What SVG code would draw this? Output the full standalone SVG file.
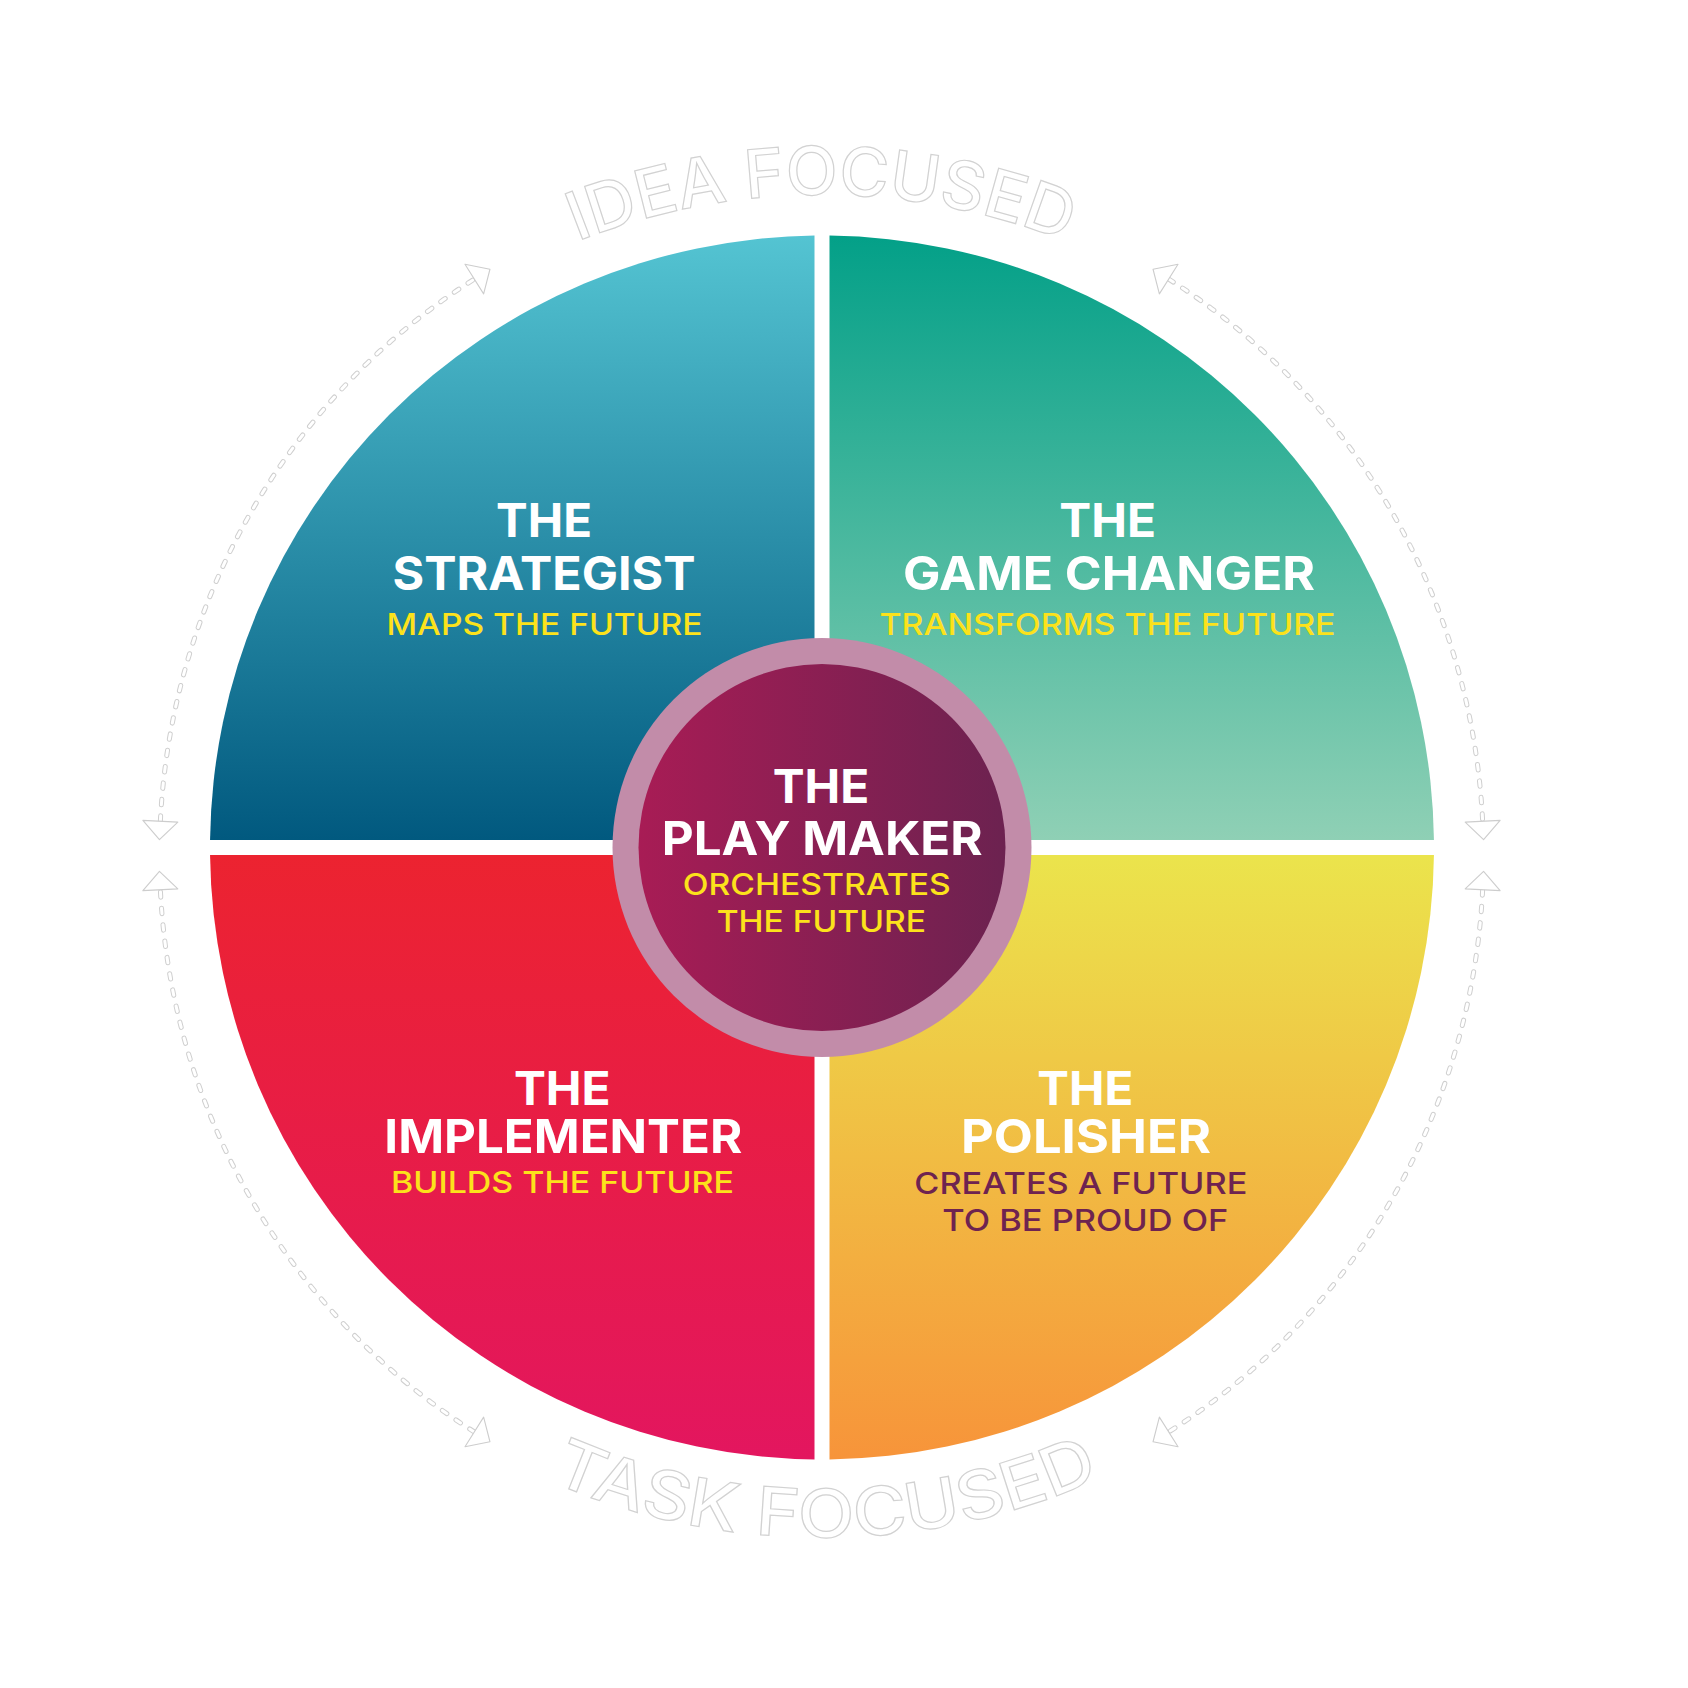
<svg xmlns="http://www.w3.org/2000/svg" width="1688" height="1688" viewBox="0 0 1688 1688">
<defs>
<linearGradient id="gTL" x1="0" y1="0" x2="0" y2="1"><stop offset="0" stop-color="#54C4D2"/><stop offset="1" stop-color="#01597F"/></linearGradient>
<linearGradient id="gTR" x1="0" y1="0" x2="0" y2="1"><stop offset="0" stop-color="#03A088"/><stop offset="1" stop-color="#8FD0B5"/></linearGradient>
<linearGradient id="gBL" x1="0" y1="0" x2="0" y2="1"><stop offset="0" stop-color="#EC2330"/><stop offset="1" stop-color="#E3165F"/></linearGradient>
<linearGradient id="gBR" x1="0" y1="0" x2="0" y2="1"><stop offset="0" stop-color="#EBE44C"/><stop offset="1" stop-color="#F7943A"/></linearGradient>
<linearGradient id="gC" x1="0" y1="0" x2="1" y2="0"><stop offset="0" stop-color="#A81C55"/><stop offset="1" stop-color="#6C2250"/></linearGradient>
<marker id="ah" markerUnits="userSpaceOnUse" viewBox="-3 -20 25 40" refX="0" refY="0" markerWidth="25" markerHeight="40" orient="auto-start-reverse" overflow="visible">
<path d="M0,-17.5 L18.5,0 L0,17.5 Z" fill="#fff" stroke="#cdcdcd" stroke-width="1.1" stroke-linejoin="round"/>
</marker>
<path id="arcTop" d="M160.5,855.5 A661,661 0 0 1 1482.5,855.5"/>
<path id="arcBot" d="M139.5,855.5 A682,682 0 0 0 1503.5,855.5"/>
</defs>
<style>
.t{font-family:Inter,"Liberation Sans",sans-serif;font-weight:700;font-size:47px;fill:#fff;text-anchor:middle}
.s{font-family:Inter,"Liberation Sans",sans-serif;font-weight:500;font-size:30px;fill:#FCE21B;text-anchor:middle}
.p{fill:#6E2350}
.o{font-family:Inter,"Liberation Sans",sans-serif;font-weight:500;font-size:67px;fill:#fff;stroke:#d2d2d2;stroke-width:1.2;text-anchor:middle}
.dg{fill:none;stroke:#cfcfcf;stroke-width:5;stroke-linecap:round;stroke-dasharray:5.5 11}
.dw{fill:none;stroke:#fff;stroke-width:3;stroke-linecap:round;stroke-dasharray:5.5 11;marker-start:url(#ah);marker-end:url(#ah)}
</style>
<rect width="1688" height="1688" fill="#fff"/>

<g id="connectors">
<path class="dg" d="M160.35,821.25 A662,677 0 0 1 474.3,279.1"/>
<path class="dw" d="M160.35,821.25 A662,677 0 0 1 474.3,279.1"/>
<path class="dg" d="M1168.7,279.1 A662,677 0 0 1 1482.65,821.25"/>
<path class="dw" d="M1168.7,279.1 A662,677 0 0 1 1482.65,821.25"/>
<path class="dg" d="M474.3,1431.9 A662,677 0 0 1 160.35,889.75"/>
<path class="dw" d="M474.3,1431.9 A662,677 0 0 1 160.35,889.75"/>
<path class="dg" d="M1482.65,889.75 A662,677 0 0 1 1168.7,1431.9"/>
<path class="dw" d="M1482.65,889.75 A662,677 0 0 1 1168.7,1431.9"/>
</g>

<g id="idea-focused">
<text class="o"><textPath href="#arcTop" startOffset="50%" textLength="500" lengthAdjust="spacingAndGlyphs">IDEA FOCUSED</textPath></text>
</g>
<g id="task-focused">
<text class="o"><textPath href="#arcBot" startOffset="50.2%" textLength="566" lengthAdjust="spacingAndGlyphs">TASK FOCUSED</textPath></text>
</g>

<g id="strategist">
<path d="M814.5,840 L210.05,840 A612,612 0 0 1 814.5,235.55 Z" fill="url(#gTL)"/>
<text class="t" x="544" y="537.3" textLength="96" lengthAdjust="spacingAndGlyphs">THE</text>
<text class="t" x="544" y="590" textLength="303" lengthAdjust="spacingAndGlyphs">STRATEGIST</text>
<text class="s" x="544.5" y="635" textLength="316" lengthAdjust="spacingAndGlyphs">MAPS THE FUTURE</text>
</g>

<g id="game-changer">
<path d="M829.5,840 L829.5,235.55 A612,612 0 0 1 1433.95,840 Z" fill="url(#gTR)"/>
<text class="t" x="1107.7" y="537.3" textLength="96.7" lengthAdjust="spacingAndGlyphs">THE</text>
<text class="t" x="1109" y="590" textLength="412" lengthAdjust="spacingAndGlyphs">GAME CHANGER</text>
<text class="s" x="1107.5" y="635" textLength="456" lengthAdjust="spacingAndGlyphs">TRANSFORMS THE FUTURE</text>
</g>

<g id="implementer">
<path d="M814.5,855 L814.5,1459.45 A612,612 0 0 1 210.05,855 Z" fill="url(#gBL)"/>
<text class="t" x="562.3" y="1105" textLength="96.7" lengthAdjust="spacingAndGlyphs">THE</text>
<text class="t" x="563.3" y="1152.7" textLength="358" lengthAdjust="spacingAndGlyphs">IMPLEMENTER</text>
<text class="s" x="562.5" y="1193.3" textLength="343" lengthAdjust="spacingAndGlyphs">BUILDS THE FUTURE</text>
</g>

<g id="polisher">
<path d="M829.5,855 L1433.95,855 A612,612 0 0 1 829.5,1459.45 Z" fill="url(#gBR)"/>
<text class="t" x="1085.3" y="1105" textLength="96" lengthAdjust="spacingAndGlyphs">THE</text>
<text class="t" x="1086" y="1152.7" textLength="250" lengthAdjust="spacingAndGlyphs">POLISHER</text>
<text class="s p" x="1080.8" y="1194" textLength="333" lengthAdjust="spacingAndGlyphs">CREATES A FUTURE</text>
<text class="s p" x="1085.3" y="1231" textLength="286" lengthAdjust="spacingAndGlyphs">TO BE PROUD OF</text>
</g>

<g id="play-maker">
<circle cx="822" cy="847.5" r="209.5" fill="#C28CA9"/>
<circle cx="822" cy="847.5" r="183.5" fill="url(#gC)"/>
<text class="t" x="821" y="802.7" textLength="96.6" lengthAdjust="spacingAndGlyphs">THE</text>
<text class="t" x="822.2" y="855" textLength="321" lengthAdjust="spacingAndGlyphs">PLAY MAKER</text>
<text class="s" x="816.7" y="895" textLength="268" lengthAdjust="spacingAndGlyphs">ORCHESTRATES</text>
<text class="s" x="821.3" y="932.3" textLength="209.3" lengthAdjust="spacingAndGlyphs">THE FUTURE</text>
</g>
</svg>
